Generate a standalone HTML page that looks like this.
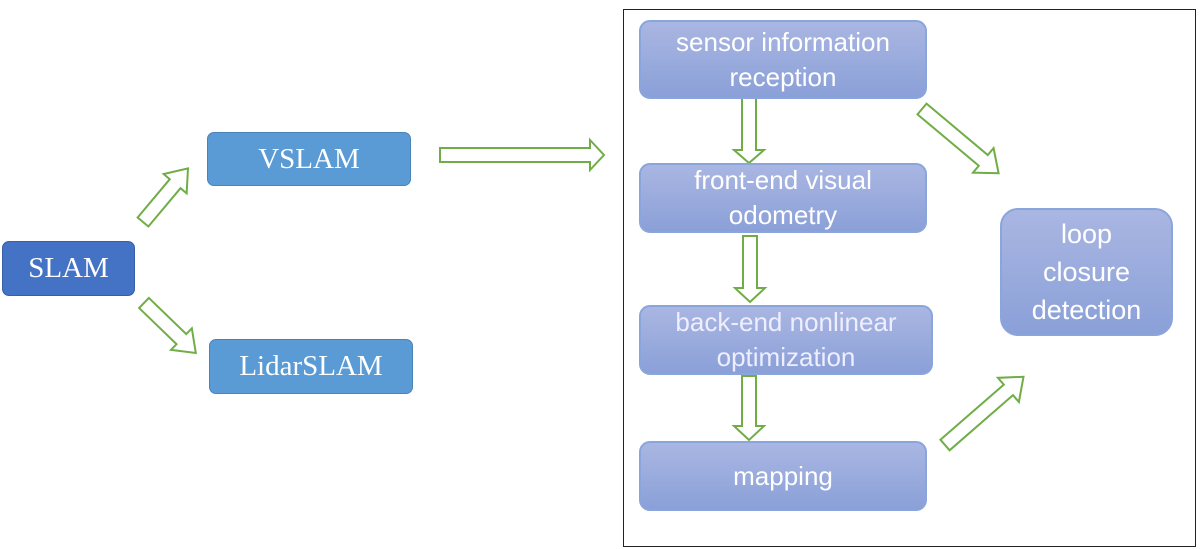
<!DOCTYPE html>
<html><head><meta charset="utf-8"><style>
body{margin:0;width:1200px;height:549px;background:#fff;position:relative;overflow:hidden}
.b{position:absolute;box-sizing:border-box;display:flex;align-items:center;justify-content:center;text-align:center;color:#fff;z-index:2}
.l{font-family:"Liberation Serif",serif;font-size:29px;background:#5b9bd5;border:1px solid #4a83b8;border-radius:7px}
.r{font-family:"Liberation Sans",sans-serif;font-size:26px;line-height:35px;background:linear-gradient(#aab6e2,#8aa0d8);border:2px solid #8aa4dc;border-radius:11px}
</style></head><body>
<div style="position:absolute;left:623px;top:9px;width:573px;height:538px;border:1.5px solid #222;box-sizing:border-box"></div>
<div class="b l" style="left:2px;top:241px;width:133px;height:55px;background:#4472c4;border-color:#3560a8">SLAM</div>
<div class="b l" style="left:207px;top:132px;width:204px;height:54px">VSLAM</div>
<div class="b l" style="left:209px;top:339px;width:204px;height:55px">LidarSLAM</div>
<div class="b r" style="left:639px;top:20px;width:288px;height:79px">sensor information<br>reception</div>
<div class="b r" style="left:639px;top:163px;width:288px;height:70px">front-end visual<br>odometry</div>
<div class="b r" style="left:639px;top:305px;width:294px;height:70px;color:#eef">back-end nonlinear<br>optimization</div>
<div class="b r" style="left:639px;top:441px;width:288px;height:70px">mapping</div>
<div class="b r" style="left:1000px;top:208px;width:173px;height:128px;border-radius:18px;line-height:38px;font-size:27px">loop<br>closure<br>detection</div>
<svg width="1200" height="549" style="position:absolute;left:0;top:0;z-index:1">
<g fill="#fff" stroke="#70ad47" stroke-width="2">
<polygon points="440,148 590,148 590,140 604,155 590,170 590,162 440,162"/>
<polygon points="742,98 756,98 756,150 764,150 749,163 734,150 742,150"/>
<polygon points="743,236 757,236 757,288 765,288 750,302 735,288 743,288"/>
<polygon points="742,376 756,376 756,426 764,426 749,440 734,426 742,426"/>
<polygon transform="translate(143,222) rotate(-50)" points="0,-7 50,-7 50,-15 70,0 50,15 50,7 0,7"/>
<polygon transform="translate(144,303) rotate(44)" points="0,-7 52,-7 52,-15 72,0 52,15 52,7 0,7"/>
<polygon transform="translate(922,109) rotate(40)" points="0,-7 80,-7 80,-16 100,0 80,16 80,7 0,7"/>
<polygon transform="translate(945,445) rotate(-41)" points="0,-7 84,-7 84,-16 104,0 84,16 84,7 0,7"/>
</g></svg>
</body></html>
